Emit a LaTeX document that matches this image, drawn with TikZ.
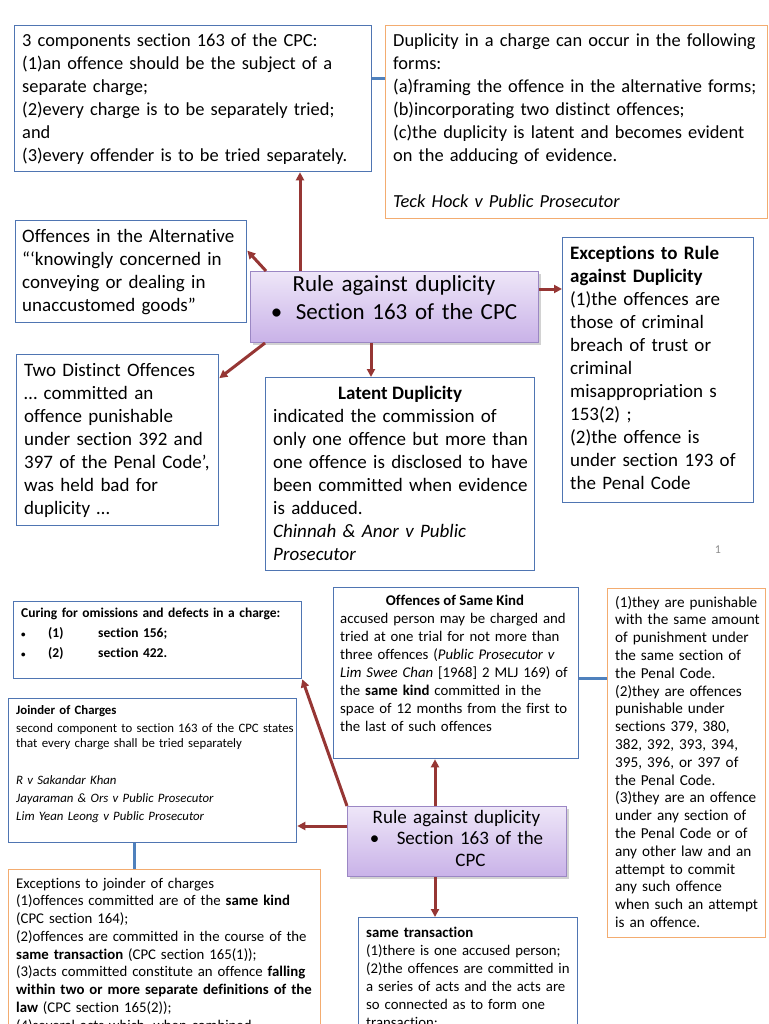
\documentclass[tikz,border=0pt]{standalone}
\usepackage{fontspec}
\setmainfont{Carlito}[Ligatures=NoCommon]
\usetikzlibrary{arrows.meta,shadows}
\definecolor{boxblue}{RGB}{79,117,178}
\definecolor{boxorange}{RGB}{243,172,112}
\definecolor{arrowred}{RGB}{150,54,52}
\definecolor{linkblue}{RGB}{79,129,189}
\definecolor{ruletop}{RGB}{238,230,248}
\definecolor{rulebot}{RGB}{201,178,232}
\definecolor{ruleedge}{RGB}{155,135,196}
\definecolor{pagegray}{RGB}{140,140,140}

\begin{document}
\begin{tikzpicture}[
  % GLOBAL CFG
  x=1pt, y=-1pt,
  % Styles
  bluebox/.style={% For the plain boxes
      rectangle,
      draw=boxblue,
      line width=1.3pt,
      fill=white,
      anchor=north west,
      inner sep=0pt,
      },
  orangebox/.style={% For the boxes with lists of cases
      rectangle,
      draw=boxorange,
      line width=1.3pt,
      fill=white,
      anchor=north west,
      inner sep=0pt,
      },
  rulebox/.style={% For the purple rule box
      rectangle,
      draw=ruleedge,
      line width=1pt,
      top color=ruletop,
      bottom color=rulebot,
      drop shadow={shadow xshift=2pt, shadow yshift=-2pt, opacity=.35},
      anchor=north west,
      inner sep=0pt,
      },
  txt/.style={% Text inside the boxes
      anchor=base west,
      inner sep=0pt,
      align=left,
      },
  bigfont/.style={font=\fontsize{19}{23}\selectfont},
  wordyfont/.style={font=\fontsize{18.4}{23}\selectfont},
  rulefont/.style={font=\fontsize{23}{28}\selectfont},
  midfont/.style={font=\fontsize{14.8}{18}\selectfont},
  smallfont/.style={font=\fontsize{12.8}{15.5}\selectfont},
  redarrow/.style={% Red arrows out of the rule box
      -{Triangle[length=8pt,width=8pt]},
      draw=arrowred,
      line width=3pt,
      },
  bluelink/.style={% Blue lines joining boxes
      draw=linkblue,
      line width=3pt,
      },
  ]

  \clip (0,0) rectangle (768,1024);
  \fill[white] (0,0) rectangle (768,1024);

  % Top half: the boxes
  \node [bluebox, minimum width=357, minimum height=146] (comp) at (14,25) {};
  \node [orangebox, minimum width=382, minimum height=193] (forms) at (385,25) {};
  \node [bluebox, minimum width=231, minimum height=102] (alt) at (15,220) {};
  \node [rulebox, minimum width=288, minimum height=71] (rule) at (250,271) {};
  \node [bluebox, minimum width=191, minimum height=265] (exc) at (562,237) {};
  \node [bluebox, minimum width=202, minimum height=171] (two) at (16,354) {};
  \node [bluebox, minimum width=269, minimum height=193] (latent) at (265,377) {};

  % Top half: the texts
  \node [txt, wordyfont, text width=360] (compT) at (22,47) {3 components section 163 of the CPC:\\(1)an offence should be the subject of a\\separate charge;\\(2)every charge is to be separately tried;\\and\\(3)every offender is to be tried separately.};
  \node [txt, wordyfont, text width=400] (formsT) at (393,47) {Duplicity in a charge can occur in the following\\forms:\\(a)framing the offence in the alternative forms;\\(b)incorporating two distinct offences;\\(c)the duplicity is latent and becomes evident\\on the adducing of evidence.\\[23pt]\textit{Teck Hock v Public Prosecutor}};
  \node [txt, bigfont, text width=250] (altT) at (22,242) {Offences in the Alternative\\“‘knowingly concerned in\\conveying or dealing in\\unaccustomed goods”};
  \node [txt, rulefont, anchor=base, text width=288, align=center] (ruleT) at (394,291) {Rule against duplicity\\\makebox[25pt][l]{•}Section 163 of the CPC};
  \node [txt, bigfont, text width=200] (excT) at (570,259) {\textbf{Exceptions to Rule}\\\textbf{against Duplicity}\\(1)the offences are\\those of criminal\\breach of trust or\\criminal\\misappropriation s\\153(2) ;\\(2)the offence is\\under section 193 of\\the Penal Code};
  \node [txt, bigfont, text width=210] (twoT) at (24,376) {Two Distinct Offences\\… committed an\\offence punishable\\under section 392 and\\397 of the Penal Code’,\\was held bad for\\duplicity …};
  \node [txt, bigfont, anchor=base] (latentH) at (400,399) {\textbf{Latent Duplicity}};
  \node [txt, bigfont, text width=280] (latentT) at (273,422) {indicated the commission of\\only one offence but more than\\one offence is disclosed to have\\been committed when evidence\\is adduced.\\\textit{Chinnah \& Anor v Public}\\\textit{Prosecutor}};
  \node [txt, anchor=base, font=\fontsize{12}{14}\selectfont, text=pagegray] (page) at (718,553) {1};

  \coordinate (formsLink) at ([yshift=20pt]comp.east);
  \coordinate (upA) at ([xshift=50pt]rule.north west);
  \coordinate (upC) at ([xshift=16pt]rule.north west);
  \coordinate (altIn) at ([yshift=21pt]alt.east);
  \coordinate (rightE) at ([yshift=18pt]rule.east);
  \coordinate (downG) at ([xshift=121pt]rule.south west);
  \coordinate (downF) at ([xshift=15pt]rule.south west);
  \coordinate (twoIn) at ([yshift=62pt]two.east);

  \draw [bluelink] (formsLink) -- (formsLink -| forms.west);
  \draw [redarrow] (upA) -- (upA |- comp.south);
  \draw [redarrow] (upC) -- (altIn);
  \draw [redarrow] (rightE) -- (rightE -| exc.west);
  \draw [redarrow] (downG) -- (downG |- latent.north);
  \draw [redarrow] (downF) -- (twoIn);

  % Bottom half: the boxes
  \node [bluebox, minimum width=288, minimum height=77] (curing) at (13,601) {};
  \node [bluebox, minimum width=288, minimum height=144] (joinder) at (8,698) {};
  \node [bluebox, minimum width=245, minimum height=171] (same) at (333,587) {};
  \node [orangebox, minimum width=158, minimum height=349] (punish) at (607,588) {};
  \node [rulebox, minimum width=219, minimum height=70] (rule2) at (347,806) {};
  \node [bluebox, minimum width=219, minimum height=130] (trans) at (358,917) {};
  \node [orangebox, minimum width=312, minimum height=180] (excj) at (8,869) {};

  % Bottom half: the texts
  \node [txt, font=\fontsize{13.5}{20}\selectfont\bfseries, text width=300] (curingT) at (21,617) {Curing for omissions and defects in a charge:\\\makebox[27pt][l]{\fontsize{9}{9}\selectfont •}\makebox[50pt][l]{(1)}section 156;\\\makebox[27pt][l]{\fontsize{9}{9}\selectfont •}\makebox[50pt][l]{(2)}section 422.};
  \node [txt, smallfont, text width=300] (joinderT) at (16,714) {\textbf{Joinder of Charges}\\[2.5pt]second component to section 163 of the CPC states\\that every charge shall be tried separately\\[21pt]\textit{R v Sakandar Khan}\\[2.5pt]\textit{Jayaraman \& Ors v Public Prosecutor}\\[2.5pt]\textit{Lim Yean Leong v Public Prosecutor}};
  \node [txt, midfont, anchor=base] (sameH) at (455,605) {\textbf{Offences of Same Kind}};
  \node [txt, midfont, text width=260] (sameT) at (340,623) {accused person may be charged and\\tried at one trial for not more than\\three offences (\textit{Public Prosecutor v}\\\textit{Lim Swee Chan} [1968] 2 MLJ 169) of\\the \textbf{same kind} committed in the\\space of 12 months from the first to\\the last of such offences};
  \node [txt, font=\fontsize{15.2}{17.8}\selectfont, text width=170] (punishT) at (615,607) {(1)they are punishable\\with the same amount\\of punishment under\\the same section of\\the Penal Code.\\(2)they are offences\\punishable under\\sections 379, 380,\\382, 392, 393, 394,\\395, 396, or 397 of\\the Penal Code.\\(3)they are an offence\\under any section of\\the Penal Code or of\\any other law and an\\attempt to commit\\any such offence\\when such an attempt\\is an offence.};
  \node [txt, font=\fontsize{19}{21.5}\selectfont, anchor=base, text width=219, align=center] (rule2T) at (456.5,823) {Rule against duplicity\\\makebox[27pt][l]{•}Section 163 of the\\\hspace*{28pt}CPC};
  \node [txt, midfont, text width=240] (transT) at (366,937) {\textbf{same transaction}\\(1)there is one accused person;\\(2)the offences are committed in\\a series of acts and the acts are\\so connected as to form one\\transaction;};
  \node [txt, font=\fontsize{14.8}{17.75}\selectfont, text width=340] (excjT) at (16,888) {Exceptions to joinder of charges\\(1)offences committed are of the \textbf{same kind}\\(CPC section 164);\\(2)offences are committed in the course of the\\\textbf{same transaction} (CPC section 165(1));\\(3)acts committed constitute an offence \textbf{falling}\\\textbf{within two or more separate definitions of the}\\\textbf{law} (CPC section 165(2));\\(4)several acts which, when combined};

  \coordinate (upJ) at ([xshift=88pt]rule2.north west);
  \coordinate (downL) at ([xshift=88pt]rule2.south west);
  \coordinate (leftI) at ([yshift=-20pt]rule2.north west);
  \coordinate (sameLink) at ([yshift=-5pt]same.east);
  \coordinate (joinLink) at ([xshift=126pt]joinder.south west);

  \draw [redarrow] (upJ) -- (upJ |- same.south);
  \draw [redarrow] (rule2.north west) -- (curing.south east);
  \draw [redarrow] (leftI) -- (leftI -| joinder.east);
  \draw [redarrow] (downL) -- (downL |- trans.north);
  \draw [bluelink] (sameLink) -- (sameLink -| punish.west);
  \draw [bluelink] (joinLink) -- (joinLink |- excj.north);

\end{tikzpicture}
\end{document}
